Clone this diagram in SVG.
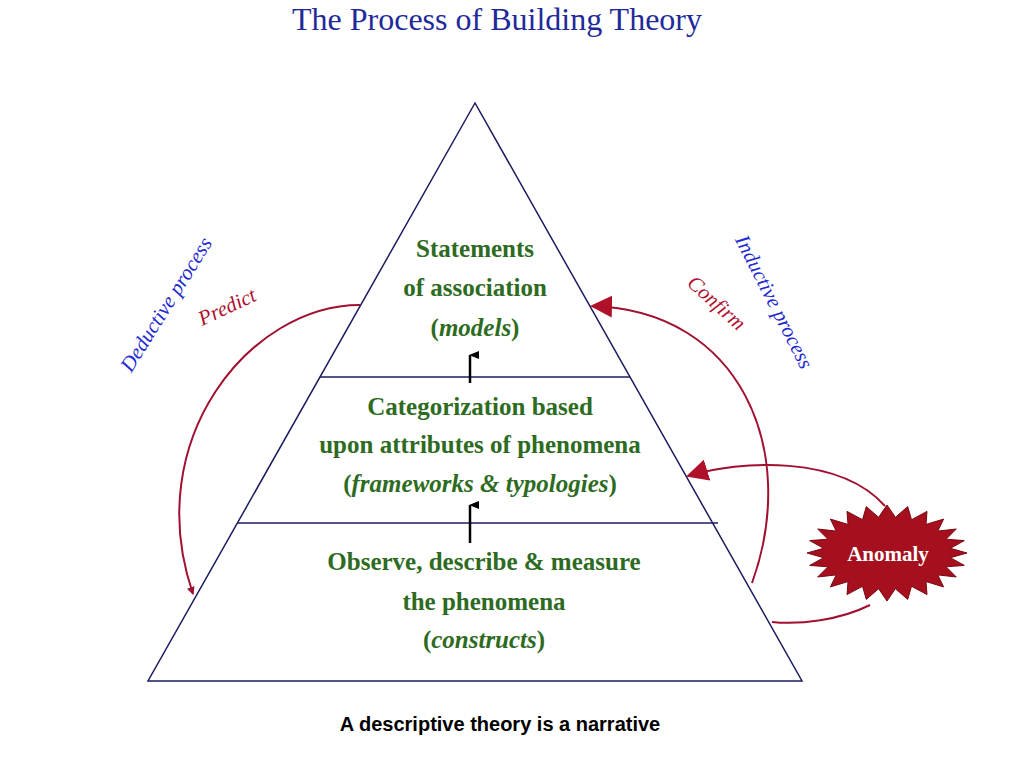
<svg xmlns="http://www.w3.org/2000/svg" width="1024" height="768" viewBox="0 0 1024 768">
<style>
.g{font-family:"Liberation Serif",serif;font-size:25px;font-weight:bold;fill:#2e6b22;text-anchor:middle}
.gi{font-style:italic}
.b{font-family:"Liberation Serif",serif;font-size:21px;font-style:italic;fill:#1f2ad0;text-anchor:middle}
.r{font-family:"Liberation Serif",serif;font-size:21px;font-style:italic;fill:#b01030;text-anchor:middle}
.arc{fill:none;stroke:#a01030;stroke-width:2}
.ln{stroke:#1c1c60;stroke-width:1.5;fill:none}
</style>
<defs>
<marker id="ra" markerWidth="8" markerHeight="8" refX="7" refY="4" orient="auto" markerUnits="userSpaceOnUse" viewBox="0 0 8 8"><path d="M0,0 L8,4 L0,8 z" fill="#a01030"/></marker>
<marker id="big" markerWidth="22" markerHeight="22" refX="20" refY="11" orient="auto" markerUnits="userSpaceOnUse" viewBox="0 0 22 22"><path d="M0,0 L22,11 L0,22 z" fill="#b0102a"/></marker>
<marker id="ba" markerWidth="8" markerHeight="10" refX="4" refY="1" orient="auto" markerUnits="userSpaceOnUse" viewBox="0 0 8 10"><path d="M0,10 L4,0 L8,10 z" fill="#000"/></marker>
</defs>
<rect width="1024" height="768" fill="#fff"/>
<text x="497" y="30" font-family="Liberation Serif,serif" font-size="32" fill="#1f2a9a" text-anchor="middle">The Process of Building Theory</text>
<g id="pyramid">
<polygon class="ln" points="475,103 148,681 802,681"/>
<line class="ln" x1="320" y1="377" x2="630" y2="377"/>
<line class="ln" x1="237" y1="523" x2="718" y2="523"/>
</g>
<g id="top">
<text class="g" x="475" y="257">Statements</text>
<text class="g" x="475" y="296">of association</text>
<text class="g" x="475" y="336">(<tspan class="gi">models</tspan>)</text>
</g>
<g id="middle">
<text class="g" x="480" y="415">Categorization based</text>
<text class="g" x="480" y="453">upon attributes of phenomena</text>
<text class="g" x="480" y="492">(<tspan class="gi">frameworks &amp; typologies</tspan>)</text>
</g>
<g id="bottom">
<text class="g" x="484" y="570">Observe, describe &amp; measure</text>
<text class="g" x="484" y="610">the phenomena</text>
<text class="g" x="484" y="648">(<tspan class="gi">constructs</tspan>)</text>
</g>
<g id="anomaly">
<polygon transform="translate(887,553)" fill="#a50f1e" stroke="#7a0a14" stroke-width="1" points="80,0 63.4,4.7 77.3,12.4 59.1,13.8 69.3,24 50.8,21.9 56.6,33.9 39,28.6 40,41.6 24.5,33.3 20.7,46.4 8.4,35.7 0,48 -8.4,35.7 -20.7,46.4 -24.5,33.3 -40,41.6 -39,28.6 -56.6,33.9 -50.8,21.9 -69.3,24 -59.1,13.8 -77.3,12.4 -63.4,4.7 -80,0 -63.4,-4.7 -77.3,-12.4 -59.1,-13.8 -69.3,-24 -50.8,-21.9 -56.6,-33.9 -39,-28.6 -40,-41.6 -24.5,-33.3 -20.7,-46.4 -8.4,-35.7 0,-48 8.4,-35.7 20.7,-46.4 24.5,-33.3 40,-41.6 39,-28.6 56.6,-33.9 50.8,-21.9 69.3,-24 59.1,-13.8 77.3,-12.4 63.4,-4.7"/>
<text x="888" y="561" font-family="Liberation Serif,serif" font-size="21" font-weight="bold" fill="#fff" text-anchor="middle">Anomaly</text>
</g>
<g id="labels">
<text class="b" transform="translate(172,308) rotate(-58)">Deductive process</text>
<text class="r" transform="translate(230,313) rotate(-25)">Predict</text>
<text class="r" transform="translate(712,308) rotate(42)">Confirm</text>
<text class="b" transform="translate(768,305) rotate(63)">Inductive process</text>
</g>
<g id="connectors">
<line x1="470" y1="383" x2="470" y2="355" stroke="#000" stroke-width="2.5" marker-end="url(#ba)"/>
<line x1="470" y1="543" x2="470" y2="505" stroke="#000" stroke-width="2.5" marker-end="url(#ba)"/>
<path class="arc" d="M360,305 C250,305 140,440 193,594" marker-end="url(#ra)"/>
<path class="arc" d="M752,583 C800,450 740,310 592,306" marker-end="url(#big)"/>
<path class="arc" d="M885,506 C840,455 740,460 688,476" marker-end="url(#big)"/>
<path class="arc" d="M870,605 C840,620 800,625 772,622"/>
</g>
<text x="500" y="731" font-family="Liberation Sans,sans-serif" font-size="20" font-weight="bold" fill="#000" text-anchor="middle">A descriptive theory is a narrative</text>
</svg>
